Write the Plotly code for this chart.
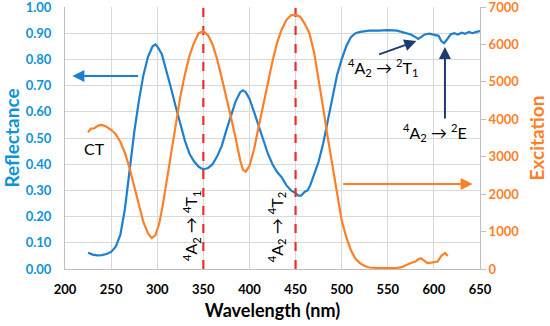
import plotly.graph_objects as go

# Reflectance (left axis)
refl_wl = [225, 230, 235, 240, 245, 250, 255, 260, 265, 270, 275, 280, 285, 290, 295, 298, 300, 305, 310, 315,
           320, 325, 330, 335, 340, 345, 350, 355, 360, 365, 370, 375, 380, 385, 390, 393, 396, 400, 405, 410,
           415, 420, 425, 430, 435, 440, 445, 450, 453, 456, 460, 463, 466, 470, 475, 480, 485, 490, 495, 500,
           505, 510, 515, 520, 530, 540, 550, 560, 565, 570, 575, 580, 583, 586, 590, 595, 600, 605, 608, 611,
           614, 618, 622, 626, 630, 634, 638, 642, 646, 650]
refl_val = [0.062, 0.055, 0.052, 0.053, 0.057, 0.065, 0.085, 0.13, 0.23, 0.38, 0.52, 0.64, 0.74, 0.81, 0.85, 0.857, 0.85, 0.82, 0.76, 0.69,
            0.62, 0.55, 0.49, 0.44, 0.41, 0.39, 0.38, 0.385, 0.40, 0.43, 0.47, 0.53, 0.59, 0.64, 0.675, 0.682, 0.675, 0.65, 0.60, 0.545,
            0.49, 0.44, 0.40, 0.37, 0.35, 0.32, 0.30, 0.29, 0.28, 0.28, 0.295, 0.30, 0.32, 0.36, 0.41, 0.48, 0.57, 0.66, 0.74, 0.80,
            0.85, 0.885, 0.90, 0.905, 0.91, 0.91, 0.912, 0.91, 0.905, 0.90, 0.895, 0.885, 0.878, 0.885, 0.895, 0.898, 0.895, 0.89, 0.87, 0.862,
            0.875, 0.895, 0.90, 0.895, 0.902, 0.898, 0.905, 0.90, 0.905, 0.908]

# Excitation (right axis)
exc_wl = [225, 228, 232, 236, 240, 245, 250, 255, 260, 265, 270, 275, 280, 285, 290, 294, 298, 302, 306, 310,
          315, 320, 325, 330, 335, 340, 345, 350, 355, 360, 365, 370, 375, 380, 385, 390, 393, 396, 400, 405,
          410, 415, 420, 425, 430, 435, 440, 445, 450, 455, 460, 465, 470, 475, 480, 485, 490, 495, 500, 505,
          510, 515, 520, 525, 530, 540, 550, 560, 565, 570, 575, 580, 583, 586, 590, 593, 597, 600, 604, 608,
          612, 615]
exc_val = [3650, 3750, 3760, 3830, 3850, 3800, 3720, 3600, 3400, 3100, 2700, 2200, 1700, 1250, 950, 830, 900, 1200, 1700, 2300,
           3100, 3900, 4600, 5200, 5700, 6050, 6300, 6350, 6250, 6000, 5600, 5100, 4600, 4050, 3500, 2900, 2650, 2600, 2750, 3200,
           3800, 4400, 5000, 5550, 6050, 6400, 6650, 6780, 6790, 6740, 6550, 6300, 5800, 5100, 4300, 3500, 2750, 1950, 1300, 850,
           500, 270, 150, 80, 40, 25, 20, 25, 50, 110, 160, 200, 260, 290, 200, 160, 170, 180, 200, 350,
           430, 350]

transitions = [350, 450]
x_ticks = [200, 250, 300, 350, 400, 450, 500, 550, 600, 650]
y_ticks = [0.0, 0.1, 0.2, 0.3, 0.4, 0.5, 0.6, 0.7, 0.8, 0.9, 1.0]
y_tick_text = ["0.00", "0.10", "0.20", "0.30", "0.40", "0.50", "0.60", "0.70", "0.80", "0.90", "1.00"]
y2_ticks = [0, 1000, 2000, 3000, 4000, 5000, 6000, 7000]
y2_tick_text = ["0", "1000", "2000", "3000", "4000", "5000", "6000", "7000"]

BLUE = "#1f7fcf"
BLUE_T = "#0e93d8"
ORANGE = "#ff7f27"
NAVY = "#1b3d73"
FONT = "Lato"

fig = go.Figure()
fig.add_trace(go.Scatter(x=refl_wl, y=refl_val, mode="lines", line=dict(color=BLUE, width=2.2), yaxis="y"))
fig.add_trace(go.Scatter(x=exc_wl, y=exc_val, mode="lines", line=dict(color=ORANGE, width=2.2), yaxis="y2"))
for t in transitions:
    fig.add_trace(go.Scatter(x=[t, t], y=[0, 1], mode="lines",
                             line=dict(color="#e8302a", width=2.2, dash="dash"), yaxis="y"))

tfont = dict(family=FONT, size=16, color="black")
anns = [
    dict(x=208, y=0.737, ax=281, ay=0.737, xref="x", yref="y", axref="x", ayref="y",
         showarrow=True, arrowhead=2, arrowsize=1.2, arrowwidth=2, arrowcolor=BLUE, text=""),
    dict(x=642, y=2270, ax=500, ay=2270, xref="x", yref="y2", axref="x", ayref="y2",
         showarrow=True, arrowhead=2, arrowsize=1.2, arrowwidth=2, arrowcolor=ORANGE, text=""),
    dict(x=581, y=0.870, ax=539, ay=0.817, xref="x", yref="y", axref="x", ayref="y",
         showarrow=True, arrowhead=2, arrowsize=1.2, arrowwidth=2, arrowcolor=NAVY, text=""),
    dict(x=612, y=0.847, ax=612, ay=0.569, xref="x", yref="y", axref="x", ayref="y",
         showarrow=True, arrowhead=2, arrowsize=1.2, arrowwidth=2, arrowcolor=NAVY, text=""),
    dict(x=232, y=0.46, xref="x", yref="y", showarrow=False, text="CT", font=tfont),
    dict(x=337, y=0.165, xref="x", yref="y", showarrow=False, textangle=-90,
         text="<sup>4</sup>A<sub>2</sub> → <sup>4</sup>T<sub>1</sub>", font=tfont),
    dict(x=429, y=0.16, xref="x", yref="y", showarrow=False, textangle=-90,
         text="<sup>4</sup>A<sub>2</sub> → <sup>4</sup>T<sub>2</sub>", font=tfont),
    dict(x=545, y=0.77, xref="x", yref="y", showarrow=False,
         text="<sup>4</sup>A<sub>2</sub> → <sup>2</sup>T<sub>1</sub>", font=tfont),
    dict(x=601, y=0.52, xref="x", yref="y", showarrow=False,
         text="<sup>4</sup>A<sub>2</sub> → <sup>2</sup>E", font=tfont),
]

fig.update_layout(
    width=550, height=326,
    margin=dict(l=65, r=70, t=7, b=57, autoexpand=False),
    paper_bgcolor="white", plot_bgcolor="white",
    showlegend=False,
    font=dict(family=FONT),
    annotations=anns,
    xaxis=dict(range=[200, 650], tickvals=x_ticks, showgrid=True, gridcolor="#d9d9d9", gridwidth=1,
               showline=True, linecolor="#bfbfbf", linewidth=1, zeroline=False, automargin=False,
               ticks="outside", ticklen=8, tickcolor="rgba(0,0,0,0)", ticklabeloverflow="allow",
               tickfont=dict(family=FONT, size=13, color="black", weight="bold"),
               title=dict(text="<b>Wavelength (nm)</b>", font=dict(family=FONT, size=18, color="black"), standoff=8)),
    yaxis=dict(range=[0, 1], tickvals=y_ticks, ticktext=y_tick_text, showgrid=True, gridcolor="#d9d9d9", gridwidth=1,
               showline=True, linecolor="#bfbfbf", linewidth=1, zeroline=False, automargin=False,
               ticks="outside", ticklen=10, tickcolor="rgba(0,0,0,0)", ticklabeloverflow="allow",
               tickfont=dict(family=FONT, size=13, color=BLUE_T, weight="bold"),
               title=dict(text="<b>Reflectance</b>", font=dict(family=FONT, size=19, color=BLUE_T), standoff=2)),
    yaxis2=dict(range=[0, 7000], tickvals=y2_ticks, ticktext=y2_tick_text, overlaying="y", side="right", showgrid=False,
                showline=True, linecolor="#bfbfbf", linewidth=1, zeroline=False, automargin=False,
                ticks="outside", ticklen=5, tickcolor="#bfbfbf", ticklabeloverflow="allow",
                tickfont=dict(family=FONT, size=13, color=ORANGE, weight="bold"),
                title=dict(text="<b>Excitation</b>", font=dict(family=FONT, size=19, color=ORANGE), standoff=12)),
)

fig.write_html("out.html", config={"displayModeBar": False},
               post_script="document.body.style.margin='0';")
